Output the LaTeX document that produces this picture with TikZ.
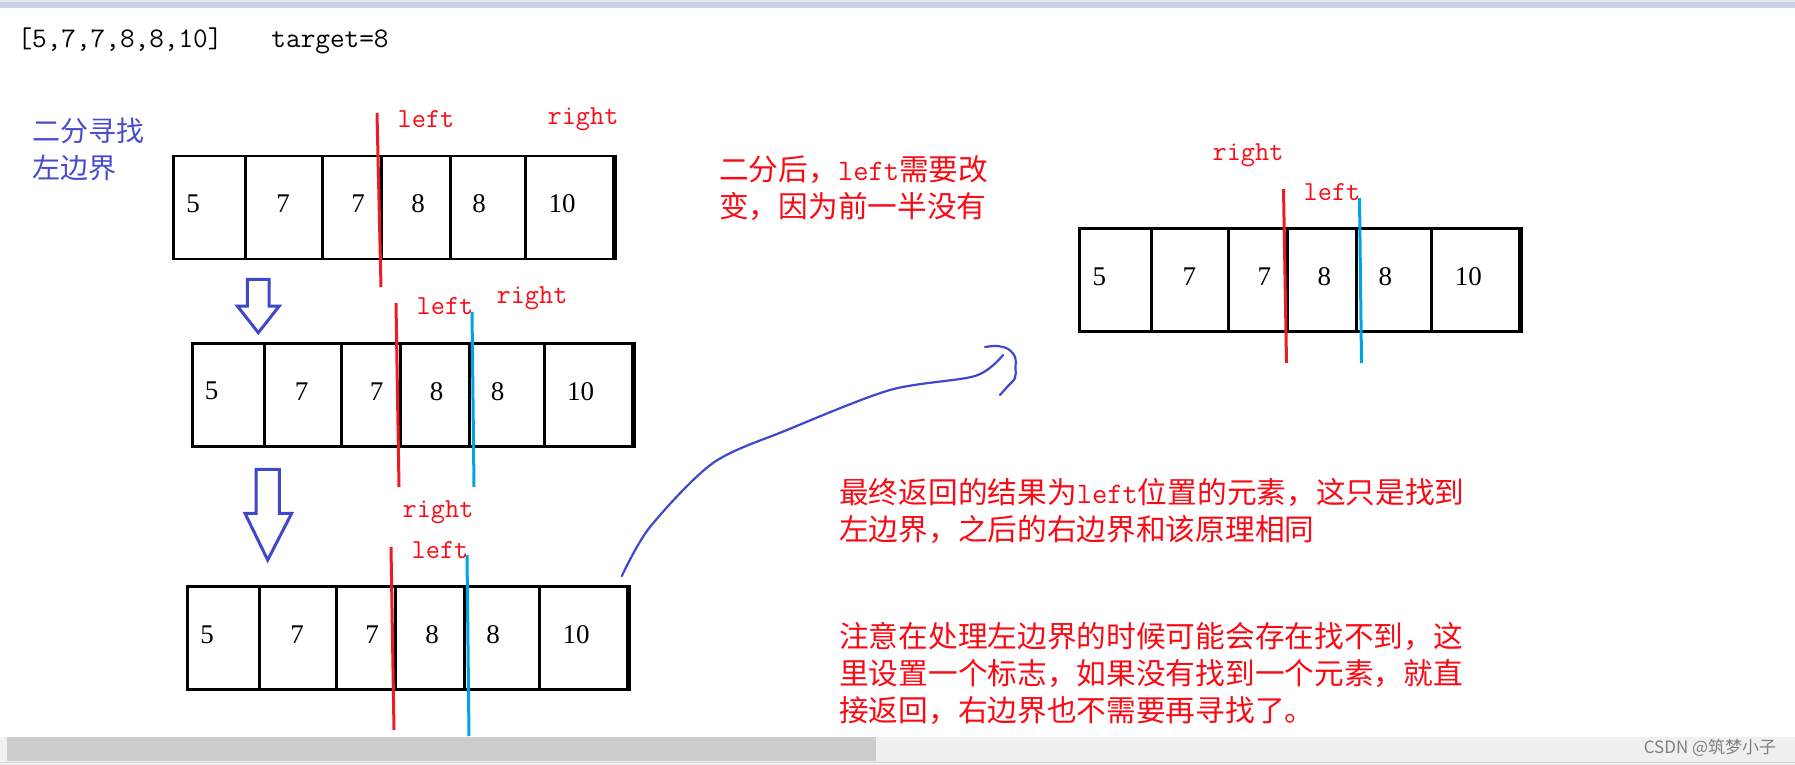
\documentclass[tikz,border=0pt]{standalone}
\usepackage{fontspec}
\usepackage{tikz}
\newfontfamily\cjk{Noto Sans CJK SC}
\newfontfamily\numfont{Liberation Serif}
\definecolor{pred}{RGB}{237,28,36}
\definecolor{pblue}{RGB}{0,162,232}
\definecolor{indigo}{RGB}{63,72,204}
\definecolor{notered}{RGB}{250,10,20}
\definecolor{headblue}{RGB}{72,76,205}
\definecolor{topbar}{RGB}{200,210,226}

\begin{document}
\begin{tikzpicture}[>=latex, x=1pt, y=-1pt,
		cell/.style={draw, line width=2.8pt, minimum height=103pt, anchor=north west, inner sep=0pt},
		num/.style={inner sep=0pt, font=\numfont\fontsize{27}{30}\selectfont},
		ptr/.style={text=notered, inner sep=0pt, font=\ttfamily\fontsize{27.5}{30}\selectfont},
		note/.style={text=notered, align=left, anchor=west, inner sep=0pt, font=\cjk\fontsize{29.7}{37}\selectfont},
		redline/.style={draw=pred, line width=3pt},
		blueline/.style={draw=pblue, line width=3pt},
		hollow/.style={draw=indigo, line width=3pt, line join=miter},
		curve/.style={draw=indigo, line width=2.2pt, line cap=round, line join=round}]
		%\draw [help lines] (0,0) grid (1795,765);
		\useasboundingbox (0,0) rectangle (1795,765);
		\fill [black!9] (0,0) rectangle (1795,2);
		\fill [topbar] (0,2) rectangle (1795,8);
		\fill [black!6] (0,737) rectangle (1795,765);
		\fill [black!20] (7,737) rectangle (876,761);
		\draw [black!16, line width=1pt] (0,762) -- (1795,762);
		\node [black!50, font=\cjk\fontsize{17}{20}\selectfont] (csdn) at (1710,748) {CSDN @筑梦小子};

		\node [inner sep=0pt, font=\ttfamily\fontsize{28.4}{32}\selectfont] (arr) at (120,40) {[5,7,7,8,8,10]};
		\node [inner sep=0pt, font=\ttfamily\fontsize{28.4}{32}\selectfont] (target) at (330,42) {target=8};
		\node [text=headblue, align=left, anchor=west, inner sep=0pt, font=\cjk\fontsize{28}{37}\selectfont] (head) at (32,149) {二分寻找\\左边界};

		% the four copies of the array
		\foreach \rn/\ox/\oy in {a/172/154.5, b/190.7/341.7, c/186/585, d/1078.3/227.3} {
			\foreach \val/\lx/\rx/\tx [count=\i] in {5/0/72/21, 7/72/149/111, 7/149/208/186, 8/208/277/246, 8/277/352/307, 10/352/440/390} {
				\node [cell, minimum width=\rx pt-\lx pt] (\rn\i) at (\ox+\lx,\oy) {};
				\node [num] (\rn v\i) at (\ox+\tx,\oy+49.5) {\val};
			}
			\draw [line width=4.5pt] (\rn6.north east) -- (\rn6.south east);
		}

		% pointers
		\draw [redline] (377,113) -- (381,287);
		\node [ptr] (aleft) at (426,119) {left};
		\node [ptr] (aright) at (583,119) {right};

		\draw [redline] (396,303) -- (399,487);
		\draw [blueline] (472,312) -- (474,487);
		\node [ptr] (bleft) at (445,306) {left};
		\node [ptr] (bright) at (532,298) {right};

		\draw [redline] (391,547) -- (394,730);
		\draw [blueline] (467,555) -- (469,736);
		\node [ptr] (cright) at (438,512) {right};
		\node [ptr] (cleft) at (440,550) {left};

		\draw [redline] (1283.5,189) -- (1286.5,363);
		\draw [blueline] (1359.5,198) -- (1361.5,363);
		\node [ptr] (dright) at (1248,155) {right};
		\node [ptr] (dleft) at (1332,192) {left};

		% hollow arrows between the rows
		\draw [hollow] (247.3,279.3) -- (269,279.3) -- (269,306) -- (279.3,306) -- (258.3,332.7) -- (237.3,306) -- (247.3,306) -- cycle;
		\draw [hollow] (256,469.3) -- (279.3,469.3) -- (279.3,513.3) -- (291.7,513.3) -- (267.7,560) -- (245,513.3) -- (256,513.3) -- cycle;

		% hand drawn arrow to the last state
		\coordinate (from) at ([shift={(-7,-9)}]c6.north east);
		\coordinate (tip) at (1003,355);
		\draw [curve] plot [smooth, tension=0.5] coordinates {(from) (650,527) (713,463) (787,430) (890,390) (975,376) (tip)};
		\draw [curve] plot [smooth, tension=0.6] coordinates {(985,347) (997,346) (1008,349) (1015,357) (1015.5,368) (1015,378) (1008,386) (1000,395)};

		% notes
		\node [note] (n1) at (719,188) {二分后，\ttfamily left\cjk 需要改\\变，因为前一半没有};
		\node [note] (n2) at (839,511) {最终返回的结果为\ttfamily left\cjk 位置的元素，这只是找到\\左边界，之后的右边界和该原理相同};
		\node [note] (n3) at (839,673.5) {注意在处理左边界的时候可能会存在找不到，这\\里设置一个标志，如果没有找到一个元素，就直\\接返回，右边界也不需要再寻找了。};
\end{tikzpicture}
\end{document}
